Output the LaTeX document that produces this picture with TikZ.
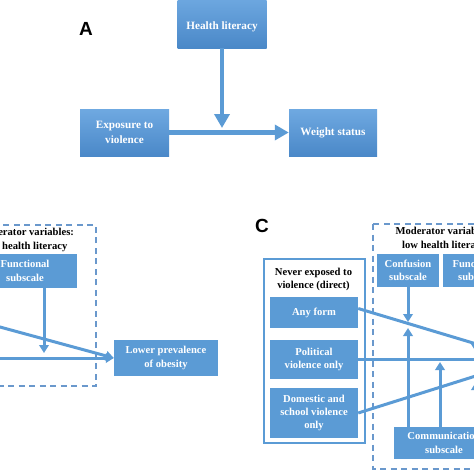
\documentclass[tikz,border=0pt]{standalone}
\usepackage{fontspec}
\setmainfont{Liberation Serif}
\newfontfamily\labfont{Liberation Sans}
\usetikzlibrary{arrows.meta,calc}
\definecolor{boxblue}{HTML}{5B9BD5}
\definecolor{topblue}{HTML}{6FA9E1}
\definecolor{botblue}{HTML}{4A88C8}
\definecolor{dashblue}{HTML}{6A98CC}
\begin{document}
\begin{tikzpicture}[x=1pt,y=-1pt,
  gbox/.style={draw=none, top color=topblue, bottom color=botblue, text=white, font=\fontsize{11.2}{15}\selectfont\bfseries, align=center, inner sep=0pt},
  fbox/.style={fill=boxblue, text=white, font=\fontsize{10.6}{13.3}\selectfont\bfseries, align=center, inner sep=0pt},
  title/.style={text=black, font=\fontsize{10.6}{13.5}\selectfont\bfseries, align=center, inner sep=0pt},
  bigarr/.style={draw=boxblue, line width=4.8pt, -{Triangle[length=14pt,width=15pt]}},
  arr/.style={draw=boxblue, line width=3pt, -{Triangle[length=8pt,width=9.5pt]}},
  plain/.style={draw=boxblue, line width=3pt},
  dbox/.style={draw=dashblue, line width=1.4pt, dash pattern=on 6pt off 4.5pt},
  sbox/.style={draw=boxblue, line width=1.6pt},
  panel/.style={font=\labfont\fontsize{19}{19}\selectfont\bfseries, inner sep=0pt}]
\useasboundingbox (0,0) rectangle (474,474);
% Panel A
\node[panel] (labA) at (86,29) {A};
\node[gbox, minimum width=89pt, text height=33pt, text depth=19pt, anchor=base] (hl) at (222,29) {Health literacy};
\node[gbox, minimum width=89pt, minimum height=47pt] (exp) at (124.5,132.5) {Exposure to\\violence};
\node[gbox, minimum width=88pt, minimum height=47pt] (ws) at (333,132.5) {Weight status};
\coordinate (jA) at (222,128);
\draw[bigarr] (exp.east) -- (ws.west);
\draw[bigarr] (hl.south) -- (jA);
% Panel B
\draw[dbox] (-20,225) rectangle (96,386);
\node[title] (tB) at (25.5,240) {Moderator variables:\\low health literacy};
\node[fbox, minimum width=104pt, minimum height=34pt] (fB) at (25,271) {Functional\\subscale};
\node[fbox, minimum width=104pt, minimum height=36pt] (lp) at (166,358) {Lower prevalence\\of obesity};
\coordinate (sB1) at (-10,358);
\coordinate (sB2) at (-10,324.3);
\coordinate (jB) at (44,353);
\draw[arr] (sB1) -- (lp.west);
\draw[arr] (sB2) -- (lp.west);
\draw[arr] (fB.south -| jB) -- (jB);
% Panel C
\node[panel] (labC) at (262,226) {C};
\draw[sbox] (264,259) rectangle (365,443);
\node[title] (nev) at (313.5,279.5) {Never exposed to\\violence (direct)};
\node[fbox, minimum width=88pt, minimum height=31pt] (af) at (314,312.5) {Any form};
\node[fbox, minimum width=88pt, minimum height=39pt] (pv) at (314,359.5) {Political\\violence only};
\node[fbox, minimum width=88pt, minimum height=50pt] (ds) at (314,413) {Domestic and\\school violence\\only};
\draw[dbox] (373,224) rectangle (530,469);
\node[title] (tC) at (444,239) {Moderator variables:\\low health literacy};
\node[fbox, minimum width=62pt, minimum height=33pt] (conf) at (408,270.5) {Confusion\\subscale};
\node[fbox, minimum width=68pt, minimum height=33pt] (funC) at (477,270.5) {Functional\\subscale};
\node[fbox, minimum width=100pt, minimum height=32pt] (comm) at (444,443) {Communication\\subscale};
\coordinate (outC) at (528,359.5);
\draw[plain] ([yshift=4pt]af.east) -- (outC);
\draw[plain] (pv.east) -- (outC);
\draw[plain] (ds.east) -- (outC);
\coordinate (jC1) at (408,322);
\coordinate (jC2) at (408,328);
\coordinate (jC3) at (440,362);
\coordinate (jC4) at (476,382);
\coordinate (jC5) at (476,352);
\draw[arr] (conf.south) -- (jC1);
\draw[arr] (comm.north -| jC2) -- (jC2);
\draw[arr] (comm.north -| jC3) -- (jC3);
\draw[arr] (comm.north -| jC4) -- (jC4);
\draw[arr] (funC.south -| jC5) -- (jC5);
\end{tikzpicture}
\end{document}
